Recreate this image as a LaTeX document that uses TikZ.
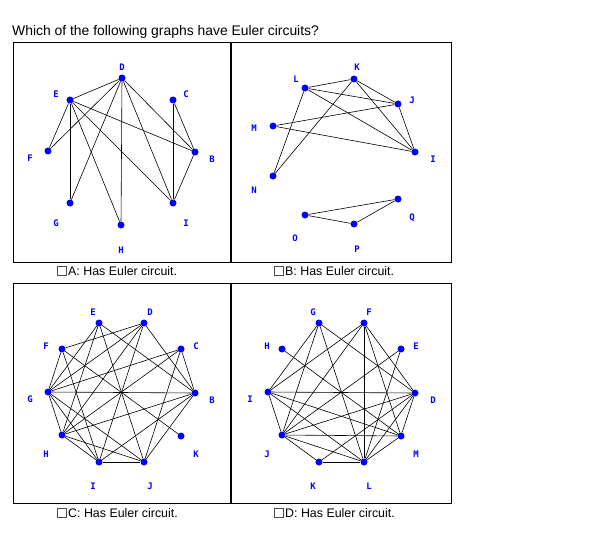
\documentclass[tikz,border=0pt]{standalone}
\usepackage{fontspec}
\setmainfont{Liberation Sans}
\setmonofont{DejaVu Sans Mono}
\begin{document}
\begin{tikzpicture}[x=1pt,y=-1pt,
  vtx/.style={circle,fill=blue,inner sep=0pt,minimum size=7pt},
  lbl/.style={text=blue,font=\ttfamily\bfseries\fontsize{9}{9}\selectfont,inner sep=0pt},
  edge/.style={draw=black,line width=0.6pt},
  panel/.style={draw=black,line width=0.8pt},
  cbox/.style={draw=black!70,line width=0.6pt,minimum size=9pt,inner sep=0pt,fill=white},
  txt/.style={font=\fontsize{12.4}{12.4}\selectfont,inner sep=0pt,anchor=west}]
\useasboundingbox (0,0) rectangle (601,540);
\node[txt,font=\fontsize{13.9}{13.9}\selectfont] (title) at (12,32) {Which of the following graphs have Euler circuits?};
\node[panel,minimum width=217,minimum height=220,anchor=north west,inner sep=0pt] (pa) at (13,42) {};
\node[panel,minimum width=220,minimum height=220,anchor=north west,inner sep=0pt] (pb) at (231,42) {};
\node[panel,minimum width=217,minimum height=220,anchor=north west,inner sep=0pt] (pc) at (13,283) {};
\node[panel,minimum width=220,minimum height=220,anchor=north west,inner sep=0pt] (pd) at (231,283) {};
% checkboxes
\node[cbox] (ca) at (62,271) {}; \node[txt] (ta) at (68,271) {A: Has Euler circuit.};
\node[cbox] (cb) at (279,271) {}; \node[txt] (tb) at (285,271) {B: Has Euler circuit.};
\node[cbox] (cc) at (62,513) {}; \node[txt] (tc) at (68,513) {C: Has Euler circuit.};
\node[cbox] (cd) at (279,513) {}; \node[txt] (td) at (285,513) {D: Has Euler circuit.};
% Panel A
\foreach \n/\x/\y/\lx/\ly in {D/122/78/122/67,E/70/100/56/94,C/173/100/186/94,F/48/151/30/158,B/195/152/212/159,G/70/203/56/223,I/173/203/186/223,H/121/225/121/250}{
  \node[vtx] (a\n) at (\x,\y) {}; \node[lbl] (al\n) at (\lx,\ly) {\n};}
\foreach \u/\v in {D/E,D/F,D/G,D/H,D/I,D/B,E/F,E/G,E/H,E/I,E/B,C/I,C/B,B/I}
  \draw[edge] (a\u) -- (a\v);
% Panel B
\foreach \n/\x/\y/\lx/\ly in {K/354/79/357/67,L/305/88/296/79,J/398/104/412/100,M/273/126/254/128,I/415/152/433/159,N/273/176/254/190,Q/398/199/412/218,O/305/215/295/238,P/354/224/357/249}{
  \node[vtx] (b\n) at (\x,\y) {}; \node[lbl] (bl\n) at (\lx,\ly) {\n};}
\foreach \u/\v in {L/K,L/J,L/I,L/N,K/J,K/I,K/N,J/I,J/M,M/I,O/Q,O/P,P/Q}
  \draw[edge] (b\u) -- (b\v);
% Panel C
\foreach \n/\x/\y/\lx/\ly in {E/99/323/93/312,D/144/323/150/312,F/62/349/46/346,C/181/349/196/346,G/48/392/30/399,B/195/393/212/400,H/62/435/46/454,K/181/436/196/454,I/99/462/93/486,J/144/462/150/486}{
  \node[vtx] (c\n) at (\x,\y) {}; \node[lbl] (cl\n) at (\lx,\ly) {\n};}
\foreach \u/\v in {E/G,E/H,E/J,E/B,F/D,F/G,F/I,F/K,D/G,D/H,D/I,D/B,C/G,C/H,C/B,C/J,B/G,B/H,B/I,B/J,G/H,G/I,G/J,H/I,H/J,I/J}
  \draw[edge] (c\u) -- (c\v);
% Panel D
\foreach \n/\x/\y/\lx/\ly in {G/319/323/313/312,F/364/323/369/312,H/282/349/267/346,E/401/349/416/346,I/268/392/250/399,D/415/393/433/400,J/282/435/267/454,M/401/436/416/454,K/319/462/313/486,L/364/462/369/486}{
  \node[vtx] (d\n) at (\x,\y) {}; \node[lbl] (dl\n) at (\lx,\ly) {\n};}
\foreach \u/\v in {G/I,G/J,G/L,G/D,F/I,F/J,F/L,F/D,F/M,H/M,E/J,E/L,I/D,I/M,I/L,I/J,D/J,D/K,D/L,D/M,J/M,J/L,J/K,K/L,L/M}
  \draw[edge] (d\u) -- (d\v);
\end{tikzpicture}
\end{document}
